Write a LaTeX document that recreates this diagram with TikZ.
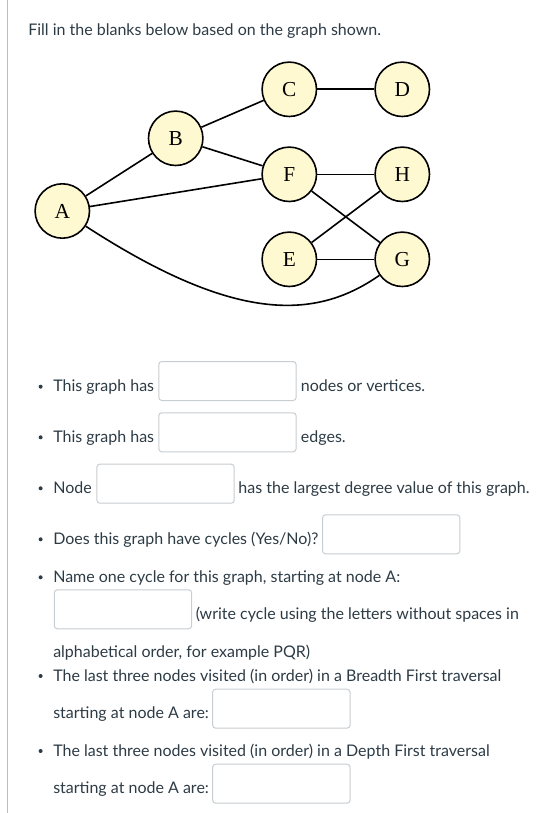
\documentclass[tikz,border=0pt]{standalone}
\usepackage{fontspec}
\setmainfont{Lato}
\newfontfamily\graphfont{Liberation Serif}
\definecolor{inktext}{HTML}{2D3B45}
\definecolor{vertexfill}{HTML}{FFF9D2}
\definecolor{blankline}{HTML}{C7CDD1}
\definecolor{pageline}{HTML}{BDBDBD}

\begin{document}
\begin{tikzpicture}[x=0.75pt,y=-0.75pt,
  vertex/.style={draw,circle,fill=vertexfill,line width=1.2pt,minimum size=40.8pt,inner sep=0pt,
    font=\graphfont\fontsize{16}{18}\selectfont},
  edge/.style={line width=1.2pt},
  txt/.style={anchor=base west,inner sep=0pt,text=inktext,font=\fontsize{12}{14}\selectfont},
  blank/.style={draw=blankline,rounded corners=2.25pt,line width=0.75pt,anchor=north west,
    minimum width=103pt,minimum height=29.25pt,inner sep=0pt},
  dot/.style={fill=inktext,circle,inner sep=0pt,minimum size=3pt}]
\useasboundingbox (0,0) rectangle (544,813);
\draw[pageline,line width=1.2pt] (7.3,0) -- (7.3,813);

\node[txt] (title) at (28,36) {Fill in the blanks below based on the graph shown.};

% the graph
\node[vertex] (A) at (62.3,211) {A};
\node[vertex] (B) at (175.7,138.3) {B};
\node[vertex] (C) at (289.3,89.3) {C};
\node[vertex] (D) at (402.3,89.3) {D};
\node[vertex] (F) at (289.3,174.3) {F};
\node[vertex] (H) at (402.3,174.3) {H};
\node[vertex] (E) at (289.3,259.3) {E};
\node[vertex] (G) at (402.3,259.3) {G};
\draw[edge] (A)--(B);
\draw[edge] (A)--(F);
\draw[edge] (B)--(C);
\draw[edge] (B)--(F);
\draw[edge] (C)--(D);
\draw[edge] (F)--(H);
\draw[edge] (F)--(G);
\draw[edge] (E)--(H);
\draw[edge] (E)--(G);
\draw[edge] (A.-33) .. controls +(-33:131.25pt) and +(215:60pt) .. (G.215);

% the questions
\foreach \yb in {391.7,442.3,493.3,544.3,582.3,681,756}
  \node[dot] at (40.6,\yb-5) {};

\node[txt] (q1) at (53,391.7) {This graph has};
\node[blank] (b1) at (158.3,361) {};
\node[txt] (q1b) at (300.7,391.7) {nodes or vertices.};

\node[txt] (q2) at (53,442.3) {This graph has};
\node[blank] (b2) at (158.3,412.3) {};
\node[txt] (q2b) at (300.7,442.3) {edges.};

\node[txt] (q3) at (53,493.3) {Node};
\node[blank] (b3) at (96.4,463.7) {};
\node[txt] (q3b) at (238.2,493.3) {has the largest degree value of this graph.};

\node[txt] (q4) at (53,544.3) {Does this graph have cycles (Yes/No)?};
\node[blank] (b4) at (322,514.3) {};

\node[txt] (q5) at (53,582.3) {Name one cycle for this graph, starting at node A:};
\node[blank] (b5) at (53.8,589.3) {};
\node[txt] (q5b) at (195.5,619.3) {(write cycle using the letters without spaces in};
\node[txt] (q5c) at (53,657.3) {alphabetical order, for example PQR)};

\node[txt] (q6) at (53,681) {The last three nodes visited (in order) in a Breadth First traversal};
\node[txt] (q6b) at (53,718.3) {starting at node A are:};
\node[blank] (b6) at (212.2,688.7) {};

\node[txt] (q7) at (53,756) {The last three nodes visited (in order) in a Depth First traversal};
\node[txt] (q7b) at (53,793.3) {starting at node A are:};
\node[blank] (b7) at (212.2,763.7) {};
\end{tikzpicture}
\end{document}
